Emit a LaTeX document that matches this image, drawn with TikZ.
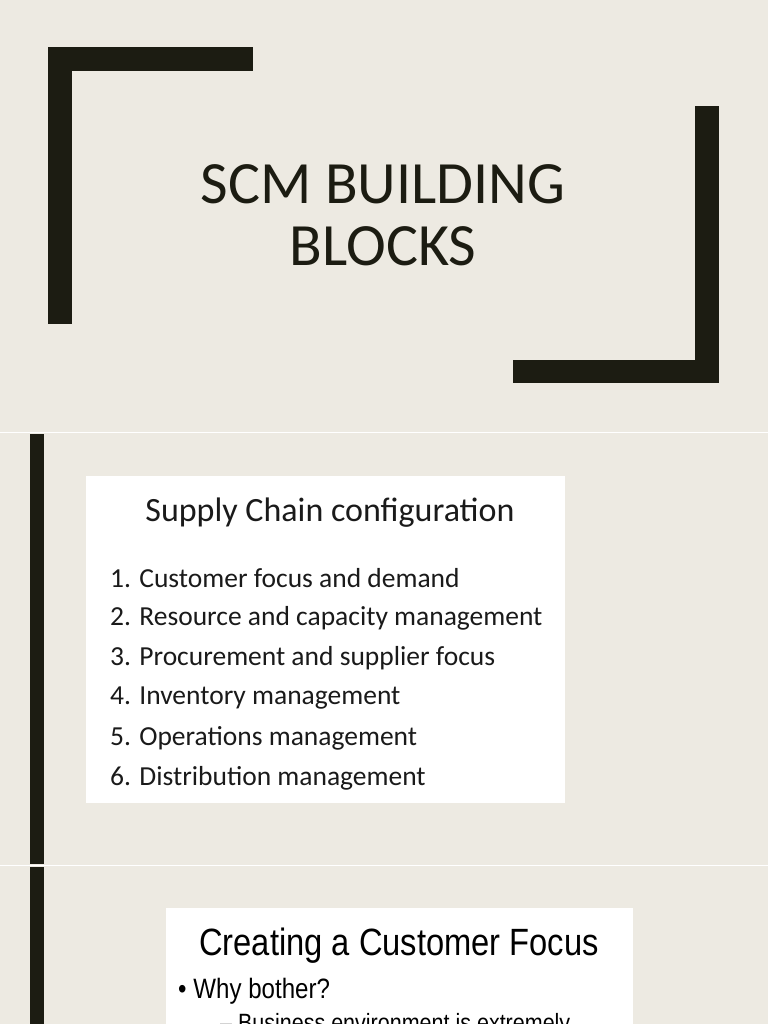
\documentclass[tikz,border=0pt]{standalone}
\usepackage{fontspec}
\setmainfont{Carlito}
\newfontfamily\arialf{Liberation Sans}
\definecolor{bg}{HTML}{EDEAE2}
\definecolor{bar}{HTML}{1C1C12}
\definecolor{txt}{HTML}{1A1A1A}
\begin{document}
\begin{tikzpicture}[x=1pt,y=-1pt,
  barfill/.style={fill=bar,draw=none},
  listitem/.style={anchor=west,inner sep=0,font=\fontsize{27.5}{30}\selectfont,text=txt},
  arialtxt/.style={inner sep=0,text=black,xscale=0.86,transform shape}]
\fill[bg] (0,0) rectangle (768,1024);
\useasboundingbox (0,0) rectangle (768,1024);
% separators
\draw[white,line width=1.2pt] (0,432.5) -- (768,432.5);
\draw[white,line width=1.2pt] (0,865.5) -- (768,865.5);
% slide 1 brackets
\fill[barfill] (48,47) rectangle (253,71);
\fill[barfill] (48,47) rectangle (72,324);
\fill[barfill] (695,106) rectangle (719,383);
\fill[barfill] (513,360) rectangle (719,383);
\node (title) [align=center,text=bar,font=\fontsize{60}{62}\selectfont,inner sep=0] at (383,215) {SCM BUILDING\\BLOCKS};
% slide 2
\fill[barfill] (30,434) rectangle (44,864);
\fill[white] (86,476) rectangle (565,803);
\node (h2) [inner sep=0,text=txt,font=\fontsize{34}{36}\selectfont] at (330,513) {Supply Chain configuration};
\node (i1) [listitem] at (110,578) {1. Customer focus and demand};
\node (i2) [listitem] at (110,618) {2. Resource and capacity management};
\node (i3) [listitem] at (110,658) {3. Procurement and supplier focus};
\node (i4) [listitem] at (110,698) {4. Inventory management};
\node (i5) [listitem] at (110,738) {5. Operations management};
\node (i6) [listitem] at (110,778) {6. Distribution management};
% slide 3
\fill[barfill] (30,867) rectangle (44,1024);
\fill[white] (166,908) rectangle (633,1024);
\node (h3) [arialtxt,font=\arialf\fontsize{38}{40}\selectfont] at (399,946) {Creating a Customer Focus};
\node (b1) [arialtxt,anchor=west,font=\arialf\fontsize{28}{30}\selectfont] at (178,991) {•\hspace{8pt}Why bother?};
\node (b2) [arialtxt,anchor=west,font=\arialf\fontsize{25}{28}\selectfont] at (220,1025) {– Business environment is extremely};
\end{tikzpicture}
\end{document}
